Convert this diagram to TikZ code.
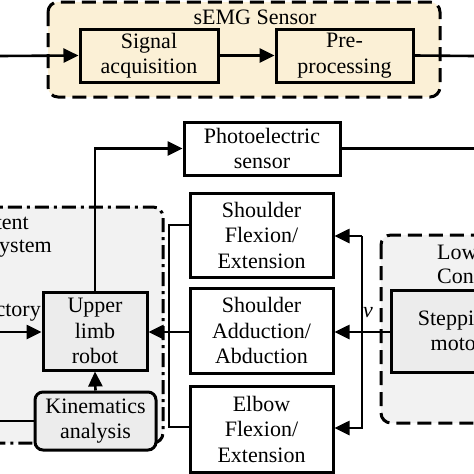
\documentclass[tikz,border=0pt]{standalone}
\usepackage{fontspec}
\setmainfont{Liberation Serif}
\usetikzlibrary{arrows.meta}
\definecolor{beige}{HTML}{FBF0D6}
\definecolor{lgray}{HTML}{F2F2F2}
\definecolor{mgray}{HTML}{ECECEC}
\tikzset{
  every node/.style={font=\fontsize{22}{25.5}\selectfont, inner sep=0pt, align=center},
  blk/.style={draw, line width=3pt},
  conn/.style={line width=2.6pt},
  arr/.style={conn, -{Triangle[length=15pt,width=14pt]}},
  dashbox/.style={draw, line width=3pt, rounded corners=10pt, dash pattern=on 14pt off 7pt},
  dashdotbox/.style={draw, line width=3pt, rounded corners=10pt, dash pattern=on 14pt off 5pt on 3pt off 5pt},
}
\begin{document}
\begin{tikzpicture}[x=1pt,y=-1pt]
\useasboundingbox (0,0) rectangle (474,474);
\clip (0,0) rectangle (474,474);
% groups
\draw[dashbox, fill=beige] (48,2) rectangle (440,97);
\node (semg) at (255,17) {sEMG Sensor};
\draw[dashdotbox, fill=lgray] (-30,207) rectangle (163,443);
\node[anchor=east] (t1) at (29,223) {tent};
\node[anchor=east] (t2) at (52,249) {system};
\draw[dashbox, fill=lgray] (381,235) rectangle (540,423);
\node[anchor=west] (l1) at (437,252) {Lower};
\node[anchor=west] (l2) at (437,276) {Control};
% blocks
\node[blk, fill=beige, minimum width=138pt, minimum height=53pt] (sig) at (149,55.5) {Signal\\acquisition};
\node[blk, fill=beige, minimum width=137pt, minimum height=53pt] (pre) at (344.5,55.5) {Pre-\\processing};
\node[blk, fill=white, minimum width=156pt, minimum height=53pt] (photo) at (262,148.5) {Photoelectric\\sensor};
\node[blk, fill=mgray, minimum width=104pt, minimum height=78pt] (robot) at (95,331) {Upper\\limb\\robot};
\node[blk, fill=mgray, rounded corners=8pt, minimum width=121pt, minimum height=58pt] (kin) at (95.5,421) {Kinematics\\analysis};
\node[blk, fill=white, minimum width=143pt, minimum height=84pt] (sf) at (261.5,235) {Shoulder\\Flexion/\\Extension};
\node[blk, fill=white, minimum width=143pt, minimum height=85pt] (sa) at (261.5,330.5) {Shoulder\\Adduction/\\Abduction};
\node[blk, fill=white, minimum width=143pt, minimum height=86pt] (el) at (261.5,429) {Elbow\\Flexion/\\Extension};
\node[blk, fill=mgray, minimum width=132pt, minimum height=82pt] (step) at (457,331) {Stepping\\motor};
% free ends
\coordinate (inA) at (0,56);
\coordinate (outA) at (474,56);
\coordinate (outP) at (474,148.5);
\coordinate (inT) at (0,332);
\node[anchor=east] (traj) at (41,313) {ctory};
\coordinate (inK) at (0,421);
\node (v) at (368,313) {\itshape v};
% connectors
\draw[arr] (inA) -- (sig.west);
\draw[arr] (sig.east) -- (pre.west);
\draw[conn] (pre.east) -- (outA);
\draw[conn] (photo.east) -- (outP);
\draw[arr] (robot.north) |- (photo.west);
\draw[arr] (inT) -- (robot.west |- inT);
\draw[conn] (inK) -- (kin.west);
\draw[arr] (kin.north) -- (robot.south);
\draw[conn] (sf.west |- 0,225) -| (169,331) |- (el.west |- 0,427);
\draw[arr] (sa.west |- 0,332) -- (robot.east |- 0,332);
\draw[arr] (step.west |- 0,332) -- (sa.east |- 0,332);
\draw[conn] (362,332) -- (362,236);
\draw[arr] (362,236) -- (sf.east |- 0,236);
\draw[arr] (362,330) |- (el.east |- 0,428);
\end{tikzpicture}
\end{document}
